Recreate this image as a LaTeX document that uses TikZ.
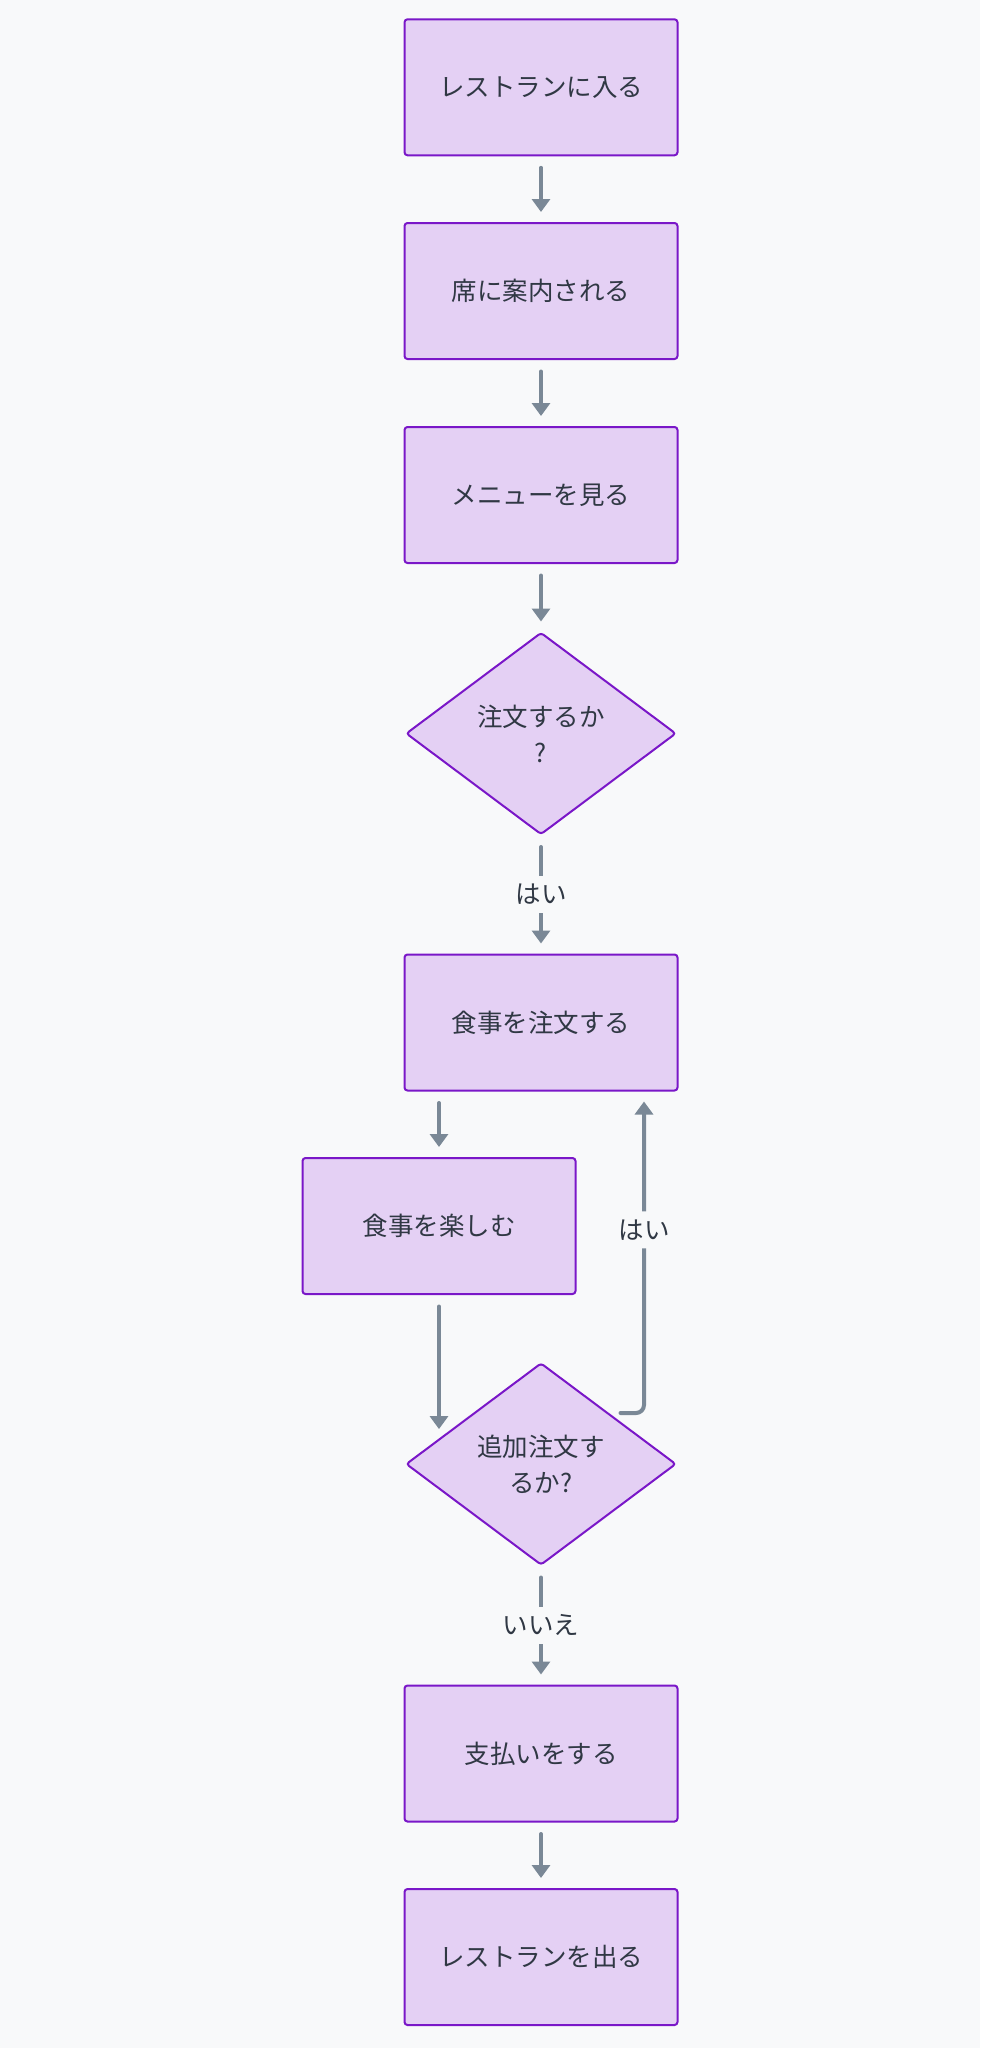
\documentclass[tikz,border=0pt]{standalone}
\usepackage{fontspec}
\setmainfont{Noto Sans CJK JP}
\usetikzlibrary{shapes.geometric,arrows.meta,calc}
\definecolor{bg}{HTML}{F8F9FA}
\definecolor{nodefill}{HTML}{E4D0F4}
\definecolor{nodedraw}{HTML}{7A17C8}
\definecolor{edgecol}{HTML}{7A8896}
\definecolor{txt}{HTML}{303844}
\begin{document}
\begin{tikzpicture}[x=1pt,y=-1pt,
 every node/.style={font=\fontsize{25.5}{36}\selectfont, text=txt},
 box/.style={rectangle, rounded corners=3pt, draw=nodedraw, fill=nodefill, line width=2pt, minimum width=273pt, minimum height=136pt, inner sep=0pt},
 decision/.style={diamond, rounded corners=3pt, draw=nodedraw, fill=nodefill, line width=2pt, minimum width=270pt, minimum height=202pt, inner sep=0pt, aspect=1.34, align=center},
 conn/.style={draw=edgecol, line width=4pt, line cap=round, -{Triangle[width=18pt,length=13pt]}, shorten <=11.5pt, shorten >=10pt},
 lbl/.style={fill=bg, inner xsep=3pt, inner ysep=0pt, minimum height=37pt}
]
\fill[bg] (0,0) rectangle (980,2048);
\useasboundingbox (0,0) rectangle (980,2048);
\node[box] (n1) at (541,87.3) {レストランに入る};
\node[box] (n2) at (541,291) {席に案内される};
\node[box] (n3) at (541,495) {メニューを見る};
\node[decision] (d1) at (541,733.5) {注文するか\\?};
\node[box] (n5) at (541,1022.5) {食事を注文する};
\node[box] (n6) at (439,1226) {食事を楽しむ};
\node[decision] (d2) at (541,1464) {追加注文す\\るか?};
\node[box] (n8) at (541,1753.5) {支払いをする};
\node[box] (n9) at (541,1957) {レストランを出る};
\coordinate (d2in) at ($(d2.north)!0.7556!(d2.west)$);
\coordinate (loopend) at ($(n5.south east)+(-34.5,0)$);
\draw[conn] (n1) -- (n2);
\draw[conn] (n2) -- (n3);
\draw[conn] (n3) -- (d1);
\draw[conn] (d1) -- node[lbl] (l1) {はい} (n5);
\draw[conn] (n6.north |- n5.south) -- (n6.north);
\draw[conn] (n6.south) -- (n6.south |- d2in);
\draw[conn, rounded corners=8pt] (d2.north east) -| node[lbl, pos=0.785] (l2) {はい} (loopend);
\draw[conn] (d2) -- node[lbl] (l3) {いいえ} (n8);
\draw[conn] (n8) -- (n9);
\end{tikzpicture}
\end{document}
